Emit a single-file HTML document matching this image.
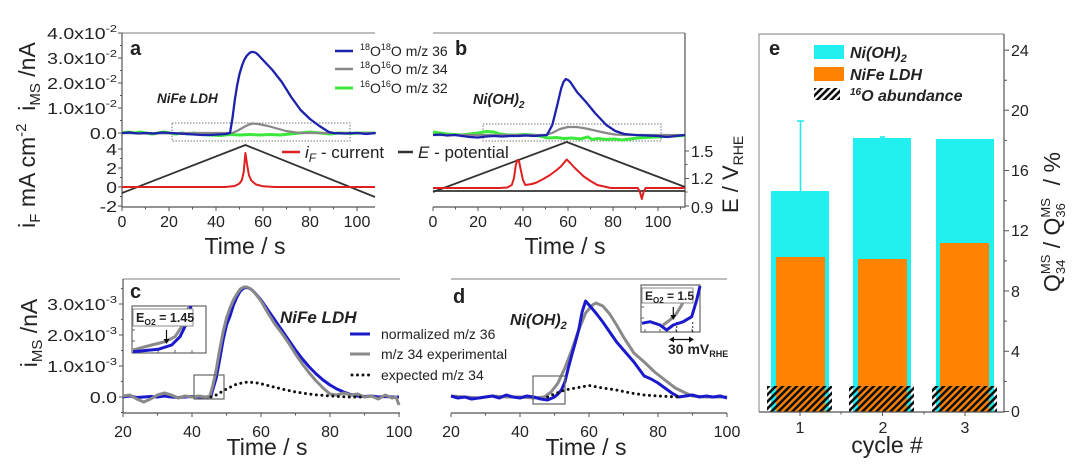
<!DOCTYPE html>
<html><head><meta charset="utf-8"><style>html,body{margin:0;padding:0;background:#fff;}svg{display:block;}</style></head>
<body>
<svg width="1080" height="469" viewBox="0 0 1080 469" xmlns="http://www.w3.org/2000/svg" font-family="'Liberation Sans', Arial, sans-serif" fill="#222">
<defs>
<pattern id="hatch" width="7" height="7" patternUnits="userSpaceOnUse">
<path d="M-1,1 l2,-2 M0,7 l7,-7 M6,8 l2,-2" stroke="#111" stroke-width="2.6"/>
</pattern>
</defs>
<rect width="1080" height="469" fill="#fff"/>

<!-- ============ PANEL A ============ -->
<path d="M122,33 H375" stroke="#999" stroke-width="1.2" fill="none"/>
<path d="M122,33 V207 H375" stroke="#555" stroke-width="1.2" fill="none"/>
<path d="M118,33h4M118,58h4M118,83h4M118,108h4M118,133h4M118,149h4M118,168h4M118,187h4M118,206h4M120,45.5h2M120,70.5h2M120,95.5h2M120,120.5h2M120,158.5h2M120,177.5h2M120,196.5h2" stroke="#555" stroke-width="1"/>
<path d="M122,207v4M169,207v4M216,207v4M263,207v4M310,207v4M357,207v4M145.5,207v2.5M192.5,207v2.5M239.5,207v2.5M286.5,207v2.5M333.5,207v2.5" stroke="#555" stroke-width="1"/>
<g transform="translate(117,0) scale(1.22,1)" font-size="16" text-anchor="end">
<text x="0" y="39">4.0x10<tspan font-size="10.5" dy="-7">-2</tspan></text>
<text x="0" y="64">3.0x10<tspan font-size="10.5" dy="-7">-2</tspan></text>
<text x="0" y="89">2.0x10<tspan font-size="10.5" dy="-7">-2</tspan></text>
<text x="0" y="114">1.0x10<tspan font-size="10.5" dy="-7">-2</tspan></text>
<text x="0" y="139">0.0</text>
<text x="0" y="155">4</text>
<text x="0" y="174">2</text>
<text x="0" y="193">0</text>
<text x="0" y="212">-2</text>
</g>
<g font-size="16" text-anchor="middle">
<text x="122" y="227">0</text><text x="169" y="227">20</text><text x="216" y="227">40</text><text x="263" y="227">60</text><text x="310" y="227">80</text><text x="357" y="227">100</text>
</g>
<text x="245" y="254" font-size="23" text-anchor="middle">Time / s</text>
<text transform="translate(35,135) rotate(-90)" text-anchor="middle" font-size="23">i<tspan font-size="15" dy="5">F</tspan><tspan dy="-5">&#160;mA cm</tspan><tspan font-size="15" dy="-9">-2</tspan><tspan dy="9">&#160;&#160;i</tspan><tspan font-size="15" dy="5">MS</tspan><tspan dy="-5">&#160;/nA</tspan></text>
<text x="130" y="55" font-size="20" font-weight="bold">a</text>
<text x="157" y="103" font-size="13.5" font-weight="bold" font-style="italic">NiFe LDH</text>
<rect x="172" y="123" width="178" height="18" fill="none" stroke="#777" stroke-width="1" stroke-dasharray="1.5 1.5"/>
<polyline fill="none" stroke="#3de83d" stroke-width="3" stroke-linejoin="round" points="122,133 128,132 134,133 140,132 146,133 152,134 158,133 164,132 170,133 176,134 182,133 188,134 194,133 200,134.5 210,135 220,135.5 230,134.5 240,135 250,134.5 260,135 270,134.5 280,135 290,134 300,133 310,132 320,133 330,134 340,133 350,133.5 360,133 375,133"/>
<polyline fill="none" stroke="#888" stroke-width="2.2" stroke-linejoin="round" points="122,133 150,133.5 190,133 232,133 237,131 244,127 249,124.5 253,123.5 258,124 268,126 277,128.5 286,131 296,132.5 305,133 375,133"/>
<polyline fill="none" stroke="#1c22ac" stroke-width="2.3" stroke-linejoin="round" points="122,133 130,132.5 138,133.5 146,133 154,133.5 162,132.5 170,133 178,133.5 186,134 194,134.5 202,135 210,135 218,134.5 226,134 230,133 232.5,118 234.8,100 237.2,85 239.5,74 241.9,66 244.2,60 246.6,56 248.9,53.5 251.3,52 253.6,52 256,53 258.3,55 263,60 272.4,70 281.8,82 291.2,97 300.6,110 310,119 319.4,126 328.8,132 333.5,133 345,133.5 357,133 366.4,134 375.8,133"/>
<polyline fill="none" stroke="#333" stroke-width="1.8" points="122,193 245.4,145 375,197"/>
<polyline fill="none" stroke="#e02020" stroke-width="2" stroke-linejoin="round" points="122,187 225.4,187 234.8,186 239.5,183.5 241.9,180 243.7,172 245.4,153 247,164 248.9,175 251.3,180.5 256,184.5 263,186.3 274.8,187 375,187"/>

<g font-size="14">
<path d="M335,51h18" stroke="#1c22ac" stroke-width="2.5"/>
<path d="M335,69h18" stroke="#888" stroke-width="2.5"/>
<path d="M335,88h18" stroke="#3de83d" stroke-width="3"/>
<text x="360" y="56"><tspan font-size="9" dy="-6">18</tspan><tspan dy="6">O</tspan><tspan font-size="9" dy="-6">18</tspan><tspan dy="6">O m/z 36</tspan></text>
<text x="360" y="74"><tspan font-size="9" dy="-6">18</tspan><tspan dy="6">O</tspan><tspan font-size="9" dy="-6">16</tspan><tspan dy="6">O m/z 34</tspan></text>
<text x="360" y="93"><tspan font-size="9" dy="-6">16</tspan><tspan dy="6">O</tspan><tspan font-size="9" dy="-6">16</tspan><tspan dy="6">O m/z 32</tspan></text>
</g>
<path d="M282,152h18" stroke="#e02020" stroke-width="2.5"/>
<text x="305" y="158" font-size="17"><tspan font-style="italic">i</tspan><tspan font-style="italic" font-size="12" dy="4">F</tspan><tspan dy="-4">&#160;- current</tspan></text>
<path d="M398,152h15" stroke="#333" stroke-width="2.5"/>
<text x="418" y="158" font-size="17"><tspan font-style="italic">E</tspan> - potential</text>

<!-- ============ PANEL B ============ -->
<path d="M433,33 H685" stroke="#999" stroke-width="1.2" fill="none"/>
<path d="M433,207 H685 V33" stroke="#555" stroke-width="1.2" fill="none"/>
<path d="M433,207v4M478,207v4M523,207v4M568,207v4M613,207v4M658,207v4M455.5,207v2.5M500.5,207v2.5M545.5,207v2.5M590.5,207v2.5M635.5,207v2.5M680.5,207v2.5" stroke="#555" stroke-width="1"/>
<path d="M685,151h4M685,178.5h4M685,206h4M685,164.5h2.5M685,192h2.5" stroke="#555" stroke-width="1"/>
<g font-size="16" text-anchor="middle">
<text x="433" y="227">0</text><text x="478" y="227">20</text><text x="523" y="227">40</text><text x="568" y="227">60</text><text x="613" y="227">80</text><text x="658" y="227">100</text>
</g>
<g font-size="16">
<text x="691" y="157">1.5</text><text x="691" y="184">1.2</text><text x="691" y="213">0.9</text>
</g>
<text x="565" y="254" font-size="23" text-anchor="middle">Time / s</text>
<text transform="translate(738,213) rotate(-90)" font-size="22">E / V<tspan font-size="14" dy="5">RHE</tspan></text>
<text x="455" y="55" font-size="20" font-weight="bold">b</text>
<text x="473" y="104" font-size="14.5" font-weight="bold" font-style="italic">Ni(OH)<tspan font-size="10" dy="4">2</tspan></text>
<rect x="483" y="124" width="178" height="17" fill="none" stroke="#777" stroke-width="1" stroke-dasharray="1.5 1.5"/>
<polyline fill="none" stroke="#3de83d" stroke-width="3" stroke-linejoin="round" points="433,132 440,133 447,134 455,134.5 462,135 470,134 478,133 486,131.5 494,132 500,134 508,135 516,135 524,134.5 532,135 540,136 548,138 556,137.5 564,138.5 572,138 580,139 588,137 592,139.5 598,138.5 606,139.5 614,139 622,140 630,139 638,138 646,137.5 655,137 665,136.5 675,136 685,135.5"/>
<polyline fill="none" stroke="#888" stroke-width="2.2" stroke-linejoin="round" points="433,135 545,135 552,133 560,129 568,127 577,127 586,128.5 597,131 606,133 615,134.5 625,135 685,135"/>
<polyline fill="none" stroke="#1c22ac" stroke-width="2.3" stroke-linejoin="round" points="433,135 440,134.5 447,135.5 455,135 462,136 470,137 478,137.5 486,136.5 494,136 502,136.5 510,136 518,136 526,135.5 534,136 541,135.5 547,135 552.3,125 556.8,107 561.3,88 563.5,82 565.8,79 568,80 570.3,82 577,92 586,102 595,113 606.3,125 615.3,131 624.3,134 635.5,135 646.8,135.5 658,136 667,137 676,136 685,135"/>
<path d="M433,191 H685" stroke="#333" stroke-width="1.8"/>
<polyline fill="none" stroke="#333" stroke-width="1.8" points="433,192 566.7,142 685,187"/>
<polyline fill="none" stroke="#e02020" stroke-width="2" stroke-linejoin="round" points="433,188 500,188 507.3,187.5 511.8,185 514,178 515.8,165 517.4,160 519,161 520.8,170 523,180 525.3,185 532,184 536.5,182.5 543.3,179 550,175 556.8,170 561.3,166 566.7,159.5 570.3,163 574.8,168 583.8,176.5 590.5,181 597.3,185 610.8,188 637.8,188 640,192 641.8,199 643.6,192 645.6,188 685,188"/>

<!-- ============ PANEL C ============ -->
<path d="M123,279 H400" stroke="#999" stroke-width="1.2" fill="none"/>
<path d="M123,279 V413 H400" stroke="#555" stroke-width="1.2" fill="none"/>
<path d="M119,397h4M119,366h4M119,335h4M119,304h4M121,412.5h2M121,381.5h2M121,350.5h2M121,319.5h2M121,288.5h2" stroke="#555" stroke-width="1"/>
<path d="M123,413v4M192,413v4M261,413v4M330,413v4M399,413v4M157.5,413v2.5M226.5,413v2.5M295.5,413v2.5M364.5,413v2.5" stroke="#555" stroke-width="1"/>
<g transform="translate(117,0) scale(1.22,1)" font-size="16" text-anchor="end">
<text x="0" y="310">3.0x10<tspan font-size="10.5" dy="-7">-3</tspan></text>
<text x="0" y="341">2.0x10<tspan font-size="10.5" dy="-7">-3</tspan></text>
<text x="0" y="372">1.0x10<tspan font-size="10.5" dy="-7">-3</tspan></text>
<text x="0" y="403">0.0</text>
</g>
<g font-size="16" text-anchor="middle">
<text x="123" y="437">20</text><text x="192" y="437">40</text><text x="261" y="437">60</text><text x="330" y="437">80</text><text x="399" y="437">100</text>
</g>
<text x="267" y="455" font-size="23" text-anchor="middle">Time / s</text>
<text transform="translate(37,333) rotate(-90)" text-anchor="middle" font-size="23">i<tspan font-size="15" dy="5">MS</tspan><tspan dy="-5">&#160;/nA</tspan></text>
<text x="130" y="298" font-size="20" font-weight="bold">c</text>
<text x="280" y="323" font-size="17" font-weight="bold" font-style="italic">NiFe LDH</text>
<polyline fill="none" stroke="#1a1acc" stroke-width="3" stroke-linejoin="round" points="123,397 129.9,396 136.8,397.5 143.7,397 150.6,396.5 157.5,397 164.4,396 171.3,397 178.2,397.5 185.1,397 192,396.5 198.9,397 205.8,397.5 211,396 212.7,390 216.2,378 219.6,360 223.1,340 226.5,325 230,316 233.4,305 236.9,297 240.3,291 243.8,288 247.2,287.5 250.7,289 254.1,292 261,300 267.9,310 274.8,320 281.7,330 288.6,340 295.5,350 302.4,359 309.3,367 316.2,374 323.1,380 330,385 336.9,389 343.8,392 350.7,394.5 357.6,396 364.5,396.5 371.4,396 378.3,397 385.2,396.5 392.1,397 399,397"/>
<polyline fill="none" stroke="#8a8a8a" stroke-width="3" stroke-linejoin="round" points="123,396 129.9,395 136.8,399 143.7,402 150.6,399 157.5,395 164.4,393 171.3,395 178.2,398 185.1,396 192,397 198.9,396 205.8,397 210,396 212.7,386 216.2,370 219.6,350 223.1,332 226.5,318 230,308 233.4,300 236.9,294 240.3,289 243.8,287 247.2,287 250.7,289 254.1,292 261,301 267.9,313 274.8,324 281.7,333 288.6,343 295.5,354 302.4,364 309.3,373 316.2,381 323.1,388 330,394 336.9,395 343.8,393 350.7,395 357.6,394 364.5,397 371.4,396 378.3,399 385.2,395 392.1,398 396,397 399,405"/>
<polyline fill="none" stroke="#111" stroke-width="3" stroke-linecap="round" stroke-dasharray="0 5.5" points="211,397 216.2,395 226.5,389 236.9,384 247.2,382 257.6,383 267.9,385.5 281.7,389 295.5,392 312.7,394.5 330,396 347,397 364.5,397"/>
<rect x="194" y="375" width="30" height="24" fill="none" stroke="#666" stroke-width="1.2"/>
<rect x="132" y="306" width="74" height="47" fill="#fff" stroke="#666" stroke-width="1.2"/>
<path d="M141,353v-3M158,353v-3M175,353v-3M192,353v-3M132,318h3M132,330h3M132,341h3" stroke="#666" stroke-width="1"/>
<polyline fill="none" stroke="#8a8a8a" stroke-width="3" stroke-linejoin="round" points="133,350 151.7,345 165,341.7 175,336.7 181.7,326.7 186.7,313 189,306"/>
<polyline fill="none" stroke="#1a1acc" stroke-width="3" stroke-linejoin="round" points="133,351.7 158.3,349.3 171.7,345 180,336.7 186.7,323 190,310 191,306"/>
<path d="M166.5,330v11" stroke="#111" stroke-width="1.2"/>
<path d="M163.5,339l3,5l3,-5z" fill="#111"/>
<rect x="133" y="309" width="60" height="17" fill="#fff" stroke="#888" stroke-width="1"/>
<text x="136" y="322" font-size="12.5" font-weight="bold">E<tspan font-size="8.5" dy="3">O2</tspan><tspan dy="-3">&#160;= 1.45</tspan></text>
<path d="M350,334h20" stroke="#1a1acc" stroke-width="3"/>
<path d="M350,354h20" stroke="#8a8a8a" stroke-width="3"/>
<path d="M352,375h18" stroke="#111" stroke-width="3" stroke-linecap="round" stroke-dasharray="0 5.5"/>
<g font-size="14">
<text x="381" y="339">normalized m/z 36</text>
<text x="381" y="359">m/z 34 experimental</text>
<text x="381" y="380">expected m/z 34</text>
</g>

<!-- ============ PANEL D ============ -->
<path d="M451,279 H727" stroke="#999" stroke-width="1.2" fill="none"/>
<path d="M451,413 H727" stroke="#555" stroke-width="1.2" fill="none"/>
<path d="M451,413v4M520,413v4M589,413v4M658,413v4M727,413v4M485.5,413v2.5M554.5,413v2.5M623.5,413v2.5M692.5,413v2.5" stroke="#555" stroke-width="1"/>
<g font-size="16" text-anchor="middle">
<text x="451" y="437">20</text><text x="520" y="437">40</text><text x="589" y="437">60</text><text x="658" y="437">80</text><text x="727" y="437">100</text>
</g>
<text x="586" y="455" font-size="23" text-anchor="middle">Time / s</text>
<text x="453" y="303" font-size="20" font-weight="bold">d</text>
<text x="510" y="325" font-size="16" font-weight="bold" font-style="italic">Ni(OH)<tspan font-size="11" dy="4">2</tspan></text>
<polyline fill="none" stroke="#8a8a8a" stroke-width="3" stroke-linejoin="round" points="451,396 464.8,397 478.6,398 492.4,396 506.2,397 520,397 533.8,398 544.2,397 551.1,392 558,383 564.9,368 571.8,350 578.7,330 585.6,313 592.5,305 595.9,303 602.8,306 609.7,314 616.6,325 623.5,337 633.9,353 644.2,362 654.6,372 664.9,380 675.3,388 685.6,393 692.5,396 706.3,397 727,397"/>
<polyline fill="none" stroke="#1a1acc" stroke-width="3" stroke-linejoin="round" points="451,396 457.9,398 464.8,397 471.7,399 478.6,398 485.5,397 492.4,396 499.3,398 506.2,395 513.1,397 520,398 526.9,396 533.8,397 540.7,399 547.6,400 554.5,397 558,394 561.4,390 564.9,382 568.3,368 571.8,355 575.2,343 578.7,330 582.1,312 585.6,301 589,305 592.5,309 595.9,313 602.8,322 609.7,332 616.6,342 623.5,350 633.9,362 644.2,376 651.1,379 658,383 664.9,388 671.8,393 678.7,397 685.6,396 692.5,395 699.4,397 706.3,396 713.2,397 720.1,396 727,398"/>
<polyline fill="none" stroke="#111" stroke-width="3" stroke-linecap="round" stroke-dasharray="0 5.5" points="547.6,397 554.5,394 564.9,390 575.2,388 589,385.5 602.8,388 616.6,390 630.4,393 644.2,395 658,396 678.7,397"/>
<rect x="533" y="376" width="32" height="28" fill="none" stroke="#666" stroke-width="1.2"/>
<rect x="641" y="285" width="59" height="47" fill="#fff" stroke="#666" stroke-width="1.2"/>
<path d="M645,332v-3M660,332v-3M676,332v-3M692,332v-3M641,296h3M641,307h3M641,318h3" stroke="#666" stroke-width="1"/>
<path d="M676.7,322V333M692.7,322V333" stroke="#333" stroke-width="1" stroke-dasharray="2 2"/>
<polyline fill="none" stroke="#8a8a8a" stroke-width="3" stroke-linejoin="round" points="663,325 670,320 676.7,313.3 681.7,305 685,297"/>
<polyline fill="none" stroke="#1a1acc" stroke-width="3" stroke-linejoin="round" points="642,323.3 650,321.7 660,325 666.7,330 673.3,325 683.3,321.7 691.7,316.7 696.7,300 700,286"/>
<path d="M673.3,307v10" stroke="#111" stroke-width="1.2"/>
<path d="M670.3,315l3,5l3,-5z" fill="#111"/>
<rect x="642" y="288" width="51" height="15" fill="#fff" stroke="#888" stroke-width="1"/>
<text x="645" y="300" font-size="12" font-weight="bold">E<tspan font-size="8" dy="3">O2</tspan><tspan dy="-3">&#160;= 1.5</tspan></text>
<path d="M673,339.5H690" stroke="#111" stroke-width="1.3"/>
<path d="M669,339.5l5,-3v6z M694,339.5l-5,-3v6z" fill="#111"/>
<text x="668" y="354" font-size="14" font-weight="bold">30 mV<tspan font-size="9" dy="3">RHE</tspan></text>

<!-- ============ PANEL E ============ -->
<rect x="771" y="191" width="58" height="221" fill="#22f0f0"/>
<rect x="776" y="257" width="49" height="155" fill="#ff8200"/>
<path d="M800.5,191V121M797,121h7" stroke="#22e8e8" stroke-width="1.6"/>
<rect x="853" y="138" width="58" height="274" fill="#22f0f0"/>
<rect x="858" y="259" width="49" height="153" fill="#ff8200"/>
<path d="M880,137h5" stroke="#22e8e8" stroke-width="1.6"/>
<rect x="936" y="139" width="58" height="273" fill="#22f0f0"/>
<rect x="940" y="243" width="49" height="169" fill="#ff8200"/>
<rect x="767" y="386" width="65" height="26" fill="url(#hatch)"/>
<rect x="849" y="386" width="65" height="26" fill="url(#hatch)"/>
<rect x="932" y="386" width="65" height="26" fill="url(#hatch)"/>
<path d="M759,412 V34 H1004" stroke="#999" stroke-width="1.2" fill="none"/>
<path d="M759,412 H1004 V34" stroke="#555" stroke-width="1.2" fill="none"/>
<path d="M1004,411.5h5M1004,351.3h5M1004,291h5M1004,230.8h5M1004,170.5h5M1004,110.3h5M1004,50.1h5M1004,381.4h3M1004,321.1h3M1004,260.9h3M1004,200.7h3M1004,140.4h3M1004,80.2h3" stroke="#555" stroke-width="1"/>
<path d="M800,412v4M882.5,412v4M965,412v4M841,412v2.5M924,412v2.5" stroke="#555" stroke-width="1"/>
<g font-size="16">
<text x="1011" y="417">0</text><text x="1011" y="357">4</text><text x="1011" y="297">8</text><text x="1011" y="236">12</text><text x="1011" y="176">16</text><text x="1011" y="116">20</text><text x="1011" y="56">24</text>
</g>
<g font-size="16" text-anchor="middle">
<text x="800" y="433">1</text><text x="883" y="433">2</text><text x="965" y="433">3</text>
</g>
<text x="887" y="453" font-size="23" text-anchor="middle">cycle #</text>
<text transform="translate(1060,292) rotate(-90)" font-size="23">Q<tspan font-size="13" dy="5">34</tspan><tspan font-size="13" dx="-14.5" dy="-15">MS</tspan><tspan dy="10">&#160;/&#160;Q</tspan><tspan font-size="13" dy="5">36</tspan><tspan font-size="13" dx="-14.5" dy="-15">MS</tspan><tspan dy="10">&#160;&#160;/&#160;%</tspan></text>
<text x="769" y="55" font-size="20" font-weight="bold">e</text>
<rect x="814" y="45" width="30" height="14" fill="#22f0f0"/>
<rect x="814" y="67" width="30" height="14" fill="#ff8200"/>
<rect x="814" y="88" width="26" height="12" fill="url(#hatch)"/>
<g font-size="16" font-weight="bold" font-style="italic">
<text x="850" y="58">Ni(OH)<tspan font-size="11" dy="4">2</tspan></text>
<text x="850" y="80">NiFe LDH</text>
<text x="850" y="101"><tspan font-size="10" dy="-6">16</tspan><tspan dy="6">O abundance</tspan></text>
</g>
</svg>
</body></html>
